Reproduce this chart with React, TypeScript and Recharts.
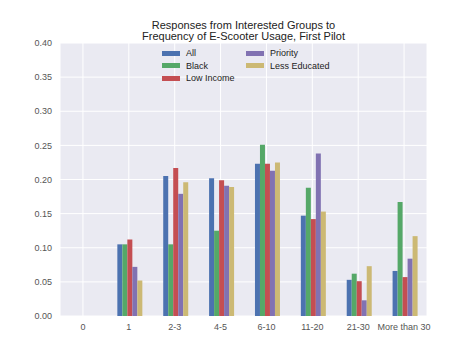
import { BarChart, Bar, XAxis, YAxis, CartesianGrid, Legend } from 'recharts'

// categories and series values
const categories = ['0', '1', '2-3', '4-5', '6-10', '11-20', '21-30', 'More than 30']
const allGroup = [0, 0.105, 0.205, 0.202, 0.223, 0.147, 0.053, 0.066]
const black = [0, 0.105, 0.105, 0.125, 0.251, 0.188, 0.062, 0.167]
const lowIncome = [0, 0.112, 0.217, 0.199, 0.223, 0.142, 0.051, 0.057]
const priority = [0, 0.072, 0.179, 0.191, 0.213, 0.238, 0.023, 0.084]
const lessEducated = [0, 0.052, 0.196, 0.189, 0.225, 0.153, 0.073, 0.117]
const yTicks = [0, 0.05, 0.1, 0.15, 0.2, 0.25, 0.3, 0.35, 0.4]

const series = [
  { key: 'all', name: 'All', color: '#4C72B0' },
  { key: 'black', name: 'Black', color: '#55A868' },
  { key: 'lowIncome', name: 'Low Income', color: '#C44E52' },
  { key: 'priority', name: 'Priority', color: '#8172B2' },
  { key: 'lessEducated', name: 'Less Educated', color: '#CCB974' }
]

const chartData = categories.map((c, i) => ({
  category: c,
  all: allGroup[i],
  black: black[i],
  lowIncome: lowIncome[i],
  priority: priority[i],
  lessEducated: lessEducated[i]
}))

const font = '"Liberation Sans", Arial, sans-serif'

function LegendBox() {
  // two columns like matplotlib's ncol=2 legend
  const cols = [series.slice(0, 3), series.slice(3)]
  return (
    <div style={{ display: 'flex', fontFamily: font, fontSize: 9, color: '#222' }}>
      {cols.map((col, ci) => (
        <div key={ci} style={{ width: 84 }}>
          {col.map((s) => (
            <div key={s.key} style={{ display: 'flex', alignItems: 'center', height: 12.5 }}>
              <span
                style={{ display: 'inline-block', width: 18, height: 5, background: s.color, marginRight: 6 }}
              />
              <span>{s.name}</span>
            </div>
          ))}
        </div>
      ))}
    </div>
  )
}

export default function App() {
  return (
    <div style={{ position: 'absolute', left: 0, top: 0, width: 474, height: 355, background: '#fff' }}>
      <div
        style={{
          position: 'absolute',
          left: 60,
          width: 367,
          top: 19.5,
          textAlign: 'center',
          fontFamily: font,
          fontSize: 11,
          lineHeight: '11px',
          color: '#222'
        }}
      >
        Responses from Interested Groups to
        <br />
        Frequency of E-Scooter Usage, First Pilot
      </div>
      <BarChart
        width={474}
        height={355}
        data={chartData}
        margin={{ top: 43, right: 47, bottom: 19, left: 0 }}
        barCategoryGap="25%"
        barGap={0}
      >
        <CartesianGrid fill="#EAEAF2" stroke="#fff" strokeWidth={1} />
        <XAxis
          dataKey="category"
          axisLine={false}
          tickLine={false}
          interval={0}
          tick={{ fontSize: 9, fill: '#555', fontFamily: font }}
          height={20}
        />
        <YAxis
          domain={[0, 0.4]}
          ticks={yTicks}
          width={60}
          axisLine={false}
          tickLine={false}
          tickFormatter={(v: number) => v.toFixed(2)}
          tick={{ fontSize: 9, fill: '#555', fontFamily: font }}
        />
        {/* middle/center keeps the legend from shrinking the plot area */}
        <Legend
          layout="horizontal"
          verticalAlign="middle"
          align="center"
          wrapperStyle={{ left: 162, top: 47, width: 170 }}
          content={() => <LegendBox />}
        />
        {series.map((s) => (
          <Bar key={s.key} dataKey={s.key} name={s.name} fill={s.color} isAnimationActive={false} />
        ))}
      </BarChart>
    </div>
  )
}
